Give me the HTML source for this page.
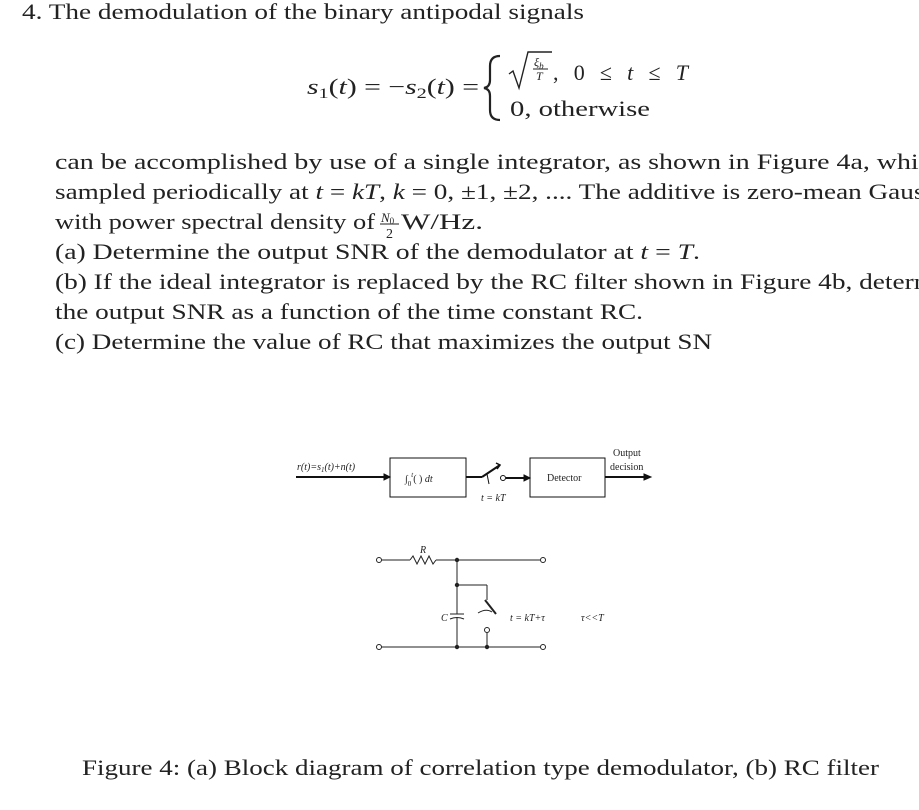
<!DOCTYPE html>
<html><head><meta charset="utf-8"><style>
html,body{margin:0;padding:0;background:#fff;width:919px;height:810px;overflow:hidden}
svg{display:block}
.t{font-family:"Liberation Serif",serif;font-size:22px;fill:#222}
.s{font-family:"Liberation Serif",serif;font-size:10px;fill:#222}
</style></head><body>
<svg width="919" height="810" viewBox="0 0 919 810" xmlns="http://www.w3.org/2000/svg">
<text class="t" x="22" y="19" textLength="562" lengthAdjust="spacingAndGlyphs">4. The demodulation of the binary antipodal signals</text>
<text class="t" x="307" y="94" textLength="172" lengthAdjust="spacingAndGlyphs"><tspan font-style="italic">s</tspan><tspan font-size="15" dy="4">1</tspan><tspan dy="-4">(</tspan><tspan font-style="italic">t</tspan>) = −<tspan font-style="italic">s</tspan><tspan font-size="15" dy="4">2</tspan><tspan dy="-4">(</tspan><tspan font-style="italic">t</tspan>) =</text>
<path d="M500,56 Q490,56 490,66 L490,80 Q490,87 484,88 Q490,89 490,96 L490,110 Q490,120 500,120" fill="none" stroke="#222" stroke-width="2.2"/>
<path d="M509,74 L513,71 L519,88 L528,52 L552,52" fill="none" stroke="#222" stroke-width="1.4"/>
<text class="t" x="534" y="66" style="font-size:12px;font-style:italic">ξ<tspan font-size="9" dy="3">b</tspan></text>
<line x1="533" y1="69" x2="548" y2="69" stroke="#222" stroke-width="1"/>
<text class="t" x="536" y="80" style="font-size:12px;font-style:italic">T</text>
<text class="t" x="553" y="80" textLength="135" lengthAdjust="spacing">,   0 ≤ <tspan font-style="italic">t</tspan> ≤ <tspan font-style="italic">T</tspan></text>
<text class="t" x="510" y="116" textLength="140" lengthAdjust="spacingAndGlyphs">0,   otherwise</text>
<text class="t" x="55" y="169" textLength="890" lengthAdjust="spacingAndGlyphs">can be accomplished by use of a single integrator, as shown in Figure 4a, which</text>
<text class="t" x="55" y="199" textLength="880" lengthAdjust="spacingAndGlyphs">sampled periodically at <tspan font-style="italic">t</tspan> = <tspan font-style="italic">kT</tspan>,  <tspan font-style="italic">k</tspan> = 0, ±1, ±2, .... The additive is zero-mean Gauss</text>
<text class="t" x="55" y="229" textLength="320" lengthAdjust="spacingAndGlyphs">with power spectral density of</text>
<text class="s" x="381" y="222" style="font-size:13px;font-style:italic">N<tspan font-size="9" dy="2" font-style="normal">0</tspan></text>
<line x1="380" y1="224" x2="399" y2="224" stroke="#222" stroke-width="1"/>
<text class="s" x="386" y="238" style="font-size:14px">2</text>
<text class="t" x="401" y="229" textLength="82" lengthAdjust="spacingAndGlyphs">W/Hz.</text>
<text class="t" x="55" y="259" textLength="645" lengthAdjust="spacingAndGlyphs">(a) Determine the output SNR of the demodulator at <tspan font-style="italic">t</tspan> = <tspan font-style="italic">T</tspan>.</text>
<text class="t" x="55" y="289" textLength="880" lengthAdjust="spacingAndGlyphs">(b) If the ideal integrator is replaced by the RC filter shown in Figure 4b, determ</text>
<text class="t" x="55" y="319" textLength="588" lengthAdjust="spacingAndGlyphs">the output SNR as a function of the time constant RC.</text>
<text class="t" x="55" y="349" textLength="657" lengthAdjust="spacingAndGlyphs">(c) Determine the value of RC that maximizes the output SN</text>
<g stroke="#111" fill="none">
<line x1="296" y1="477" x2="384" y2="477" stroke-width="2"/>
<polygon points="384,474 390,477 384,480" fill="#111"/>
<rect x="390" y="458" width="76" height="39" stroke-width="1"/>
<line x1="466" y1="477" x2="482" y2="477" stroke-width="2"/>
<line x1="482" y1="477" x2="500" y2="465" stroke-width="2"/>
<path d="M496,463 L500,465 L497,469" stroke-width="1.5"/>
<line x1="487" y1="474" x2="489" y2="484" stroke-width="1"/>
<circle cx="503" cy="478" r="2.5" stroke-width="1"/>
<line x1="506" y1="478" x2="524" y2="478" stroke-width="2"/>
<polygon points="524,475 530,478 524,481" fill="#111"/>
<rect x="530" y="458" width="75" height="39" stroke-width="1"/>
<line x1="605" y1="477" x2="644" y2="477" stroke-width="2"/>
<polygon points="644,474 651,477 644,480" fill="#111"/>
</g>
<text class="s" x="297" y="470" font-style="italic">r(t)=s<tspan font-size="7" dy="2">1</tspan><tspan dy="-2">(t)+n(t)</tspan></text>
<text class="s" x="405" y="482">∫<tspan font-size="7" dy="4">0</tspan><tspan font-size="7" dy="-9" font-style="italic">t</tspan><tspan dy="5">( ) </tspan><tspan font-style="italic">dt</tspan></text>
<text class="s" x="547" y="481">Detector</text>
<text class="s" x="613" y="456">Output</text>
<text class="s" x="610" y="470">decision</text>
<text class="s" x="481" y="501" font-style="italic">t = kT</text>
<g stroke="#222" fill="none" stroke-width="1">
<circle cx="379" cy="560" r="2.5"/>
<line x1="381" y1="560" x2="410" y2="560"/>
<path d="M410,560 l3,-4 l4,8 l4,-8 l4,8 l4,-8 l4,8 l3,-4"/>
<line x1="436" y1="560" x2="540" y2="560"/>
<circle cx="543" cy="560" r="2.5"/>
<circle cx="379" cy="647" r="2.5"/>
<line x1="381" y1="647" x2="540" y2="647"/>
<circle cx="543" cy="647" r="2.5"/>
<line x1="457" y1="560" x2="457" y2="614"/>
<line x1="450" y1="614" x2="464" y2="614"/>
<path d="M450,619 Q457,616 464,619"/>
<line x1="457" y1="618" x2="457" y2="647"/>
<line x1="457" y1="585" x2="487" y2="585"/>
<line x1="487" y1="585" x2="487" y2="600"/>
<line x1="485" y1="600" x2="496" y2="614" stroke-width="2"/>
<path d="M478,613 Q486,608 492,612" />
<circle cx="487" cy="630" r="2.5"/>
<line x1="487" y1="633" x2="487" y2="647"/>
</g>
<g fill="#222">
<circle cx="457" cy="560" r="2.2"/><circle cx="457" cy="585" r="2.2"/>
<circle cx="457" cy="647" r="2.2"/><circle cx="487" cy="647" r="2.2"/>
</g>
<text class="s" x="420" y="553" font-style="italic">R</text>
<text class="s" x="441" y="621" font-style="italic">C</text>
<text class="s" x="510" y="621" font-style="italic">t = kT+τ</text>
<text class="s" x="581" y="621" font-style="italic">τ&lt;&lt;T</text>
<text class="t" x="82" y="775" textLength="797" lengthAdjust="spacingAndGlyphs">Figure 4: (a) Block diagram of correlation type demodulator, (b) RC filter</text>
</svg>
</body></html>
